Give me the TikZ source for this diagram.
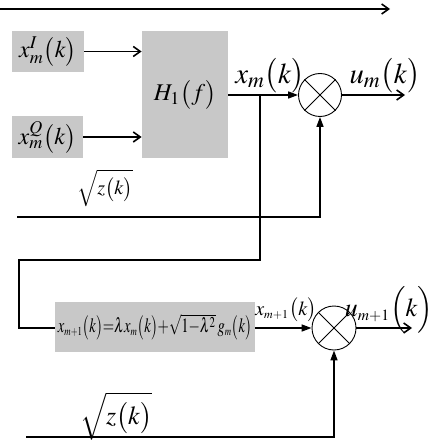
\documentclass[tikz,border=0pt]{standalone}
\usepackage{mathptmx}
\usetikzlibrary{arrows.meta}
\definecolor{boxgray}{RGB}{200,200,200}
\begin{document}
\begin{tikzpicture}[x={(0.5pt,0)},y={(0,-0.5pt)},
  graybox/.style={fill=boxgray,draw=none,inner sep=0pt},
  mult/.style={circle,draw,line width=0.45pt,minimum size=21.5pt,inner sep=0pt},
  wire/.style={line width=0.8pt},
  openarrow/.style={wire,-{Straight Barb[length=3.5pt,width=5pt,line width=0.8pt]}},
  fillarrow/.style={wire,-{Triangle[length=5pt,width=3.5pt]}},
  lbl/.style={inner sep=0pt,font=\Large}]
\useasboundingbox (0,0) rectangle (430,443);
% boxes
\node[graybox,minimum width=36pt,minimum height=20.5pt,font=\large] (xI) at (48,51.5) {$x_m^{I}\bigl(k\bigr)$};
\node[graybox,minimum width=35.5pt,minimum height=21pt,font=\large] (xQ) at (47.5,137) {$x_m^{Q}\bigl(k\bigr)$};
\node[graybox,minimum width=43pt,minimum height=63.5pt,font=\large] (H) at (185,94.5) {$H_1\bigl(f\bigr)$};
\node[graybox,minimum width=100pt,minimum height=25pt] (F) at (155,327)
  {\resizebox*{97pt}{13pt}{$x_{\scriptscriptstyle m+1}\bigl(k\bigr)\mathord{=}\lambda x_{\scriptscriptstyle m}\bigl(k\bigr)\mathord{+}\sqrt{1\mathord{-}\lambda^2}\,g_{\scriptscriptstyle m}\bigl(k\bigr)$}};
% multipliers
\node[mult] (c1) at (320,95) {};
\node[mult,minimum size=22pt] (c2) at (334,328) {};
\foreach \c in {c1,c2}{
  \draw[line width=0.45pt] (\c.north east) -- (\c.south west);
  \draw[line width=0.45pt] (\c.north west) -- (\c.south east);
}
% coordinates
\coordinate (t0) at (0,9);
\coordinate (t1) at (390,9);
\coordinate (tap) at (260,95);
\coordinate (tapd) at (260,260);
\coordinate (tapl) at (19,260);
\coordinate (tapb) at (19,328);
\coordinate (o1) at (405,95);
\coordinate (o2) at (412,328);
\coordinate (s1) at (17,217);
\coordinate (s2) at (26,437);
% connectors
\draw[openarrow] (t0) -- (t1);
\draw[openarrow] (xI.east) -- (xI.east -| H.west);
\draw[openarrow] (xQ.east) -- (xQ.east -| H.west);
\draw[fillarrow] (H.east |- c1) -- (c1.west);
\draw[openarrow] (c1.east) -- (o1);
\draw[wire] (tap) -- (tapd) -- (tapl) -- (tapb) -- (F.west |- tapb);
\draw[fillarrow] (F.east |- c2) -- (c2.west);
\draw[fillarrow] (s1) -- (s1 -| c1) -- (c1.south);
\draw[openarrow] (c2.east) -- (o2);
\draw[fillarrow] (s2) -- (s2 -| c2) -- (c2.south);
% labels
\node[lbl] (lx) at (270,76) {$x_m\bigl(k\bigr)$};
\node[lbl] (lu) at (385,76) {$u_m\bigl(k\bigr)$};
\node[lbl,font=\normalsize] (lz1) at (105,188) {$\sqrt{z\bigl(k\bigr)}$};
\node[lbl,font=\normalsize] (lx2) at (286,310) {$x_{\scriptscriptstyle m+1}\bigl(k\bigr)$};
\node[lbl,font=\fontsize{13}{15}\selectfont] (lu2) at (389,310) {$u_{\scriptscriptstyle m+1}\Bigl(k\Bigr)$};
\node[lbl,font=\fontsize{13}{15}\selectfont] (lz2) at (116,416) {$\sqrt{z\bigl(k\bigr)}$};
\end{tikzpicture}
\end{document}
